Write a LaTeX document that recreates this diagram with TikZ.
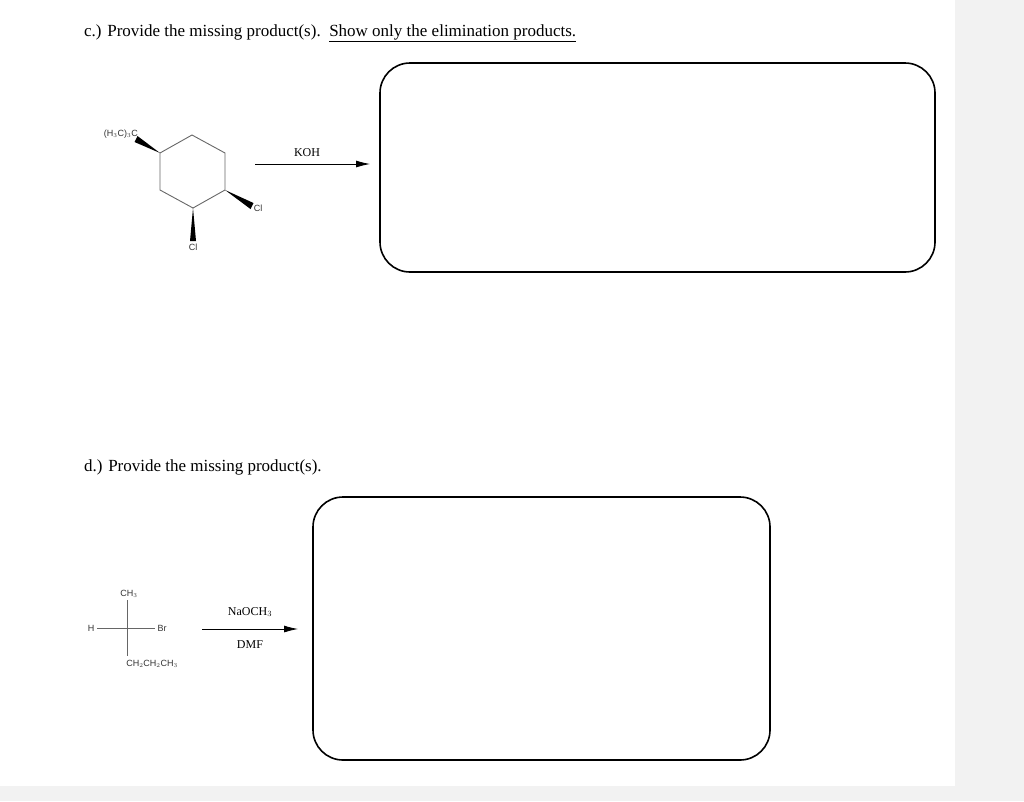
\documentclass[tikz,border=0pt]{standalone}
\usepackage{fontspec}
\setmainfont{Liberation Serif}
\newfontfamily\molfont{Liberation Sans}
\usetikzlibrary{arrows.meta,calc}
\begin{document}
\begin{tikzpicture}[x=1pt,y=-1pt,
  bond/.style={draw=black!60,line width=0.9pt},
  wedgeb/.style={fill=black},
  lab/.style={font=\molfont\fontsize{9}{10}\selectfont,inner sep=0pt,text=black!80},
  rlab/.style={font=\fontsize{12}{14}\selectfont,inner sep=0pt},
  ttl/.style={font=\fontsize{17}{20}\selectfont,anchor=base west,inner sep=0pt},
  answer/.style={draw,line width=1.6pt,rounded corners=30pt},
  rxn/.style={draw,line width=0.8pt,-{Latex[length=14pt,width=7pt]}}]
\useasboundingbox (0,0) rectangle (1024,801);
\fill[black!5] (955,0) rectangle (1024,801);
\fill[black!5] (0,786) rectangle (955,801);
\node[ttl] (t1) at (84,36) {c.) Provide the missing product(s).\ \ \underline{Show only the elimination products.}};
\node[ttl] (t2) at (84,471) {d.) Provide the missing product(s).};
% ring
\coordinate (r1) at (192,135);
\coordinate (r2) at (225,153);
\coordinate (r3) at (225,190);
\coordinate (r4) at (193,208);
\coordinate (r5) at (160,190);
\coordinate (r6) at (160,153);
\draw[bond] (r1)--(r2)--(r3)--(r4)--(r5)--(r6)--cycle;
\coordinate (w1) at (136,139);
\coordinate (w2) at (193,241);
\coordinate (w3) at (252,206);
\fill[wedgeb] (r6) -- ($(w1)+(1.5,-3)$) -- ($(w1)+(-1.5,3)$) -- cycle;
\fill[wedgeb] (r4) -- ($(w2)+(-3,0)$) -- ($(w2)+(3,0)$) -- cycle;
\fill[wedgeb] (r3) -- ($(w3)+(1.5,-3)$) -- ($(w3)+(-1.5,3)$) -- cycle;
\node[lab,anchor=east] (tbu) at (138,134) {(H$_3$C)$_3$C};
\node[lab] (cl1) at (193,247) {Cl};
\node[lab] (cl2) at (258,208) {Cl};
\coordinate (a1s) at (255,164);
\coordinate (a1e) at (370,164);
\draw[rxn] (a1s) -- (a1e);
\node[rlab] (koh) at (307,153) {KOH};
\node[answer,minimum width=555pt,minimum height=209pt] (box1) at (657.5,167.5) {};
% fischer
\coordinate (fc) at (127,628);
\coordinate (ft) at (127,600);
\coordinate (fb) at (127,656);
\coordinate (fl) at (97,628);
\coordinate (fr) at (155,628);
\draw[bond] (ft)--(fb) (fl)--(fr);
\node[lab] (ch3) at (129,594) {CH$_3$};
\node[lab] (h) at (91,628) {H};
\node[lab] (br) at (162,628) {Br};
\node[lab] (pr) at (152,664) {CH$_2$CH$_2$CH$_3$};
\coordinate (a2s) at (202,629);
\coordinate (a2e) at (298,629);
\draw[rxn] (a2s) -- (a2e);
\node[rlab] (na) at (250,612) {NaOCH$_3$};
\node[rlab] (dmf) at (250,645) {DMF};
\node[answer,minimum width=457pt,minimum height=263pt] (box2) at (541.5,628.5) {};
\end{tikzpicture}
\end{document}
